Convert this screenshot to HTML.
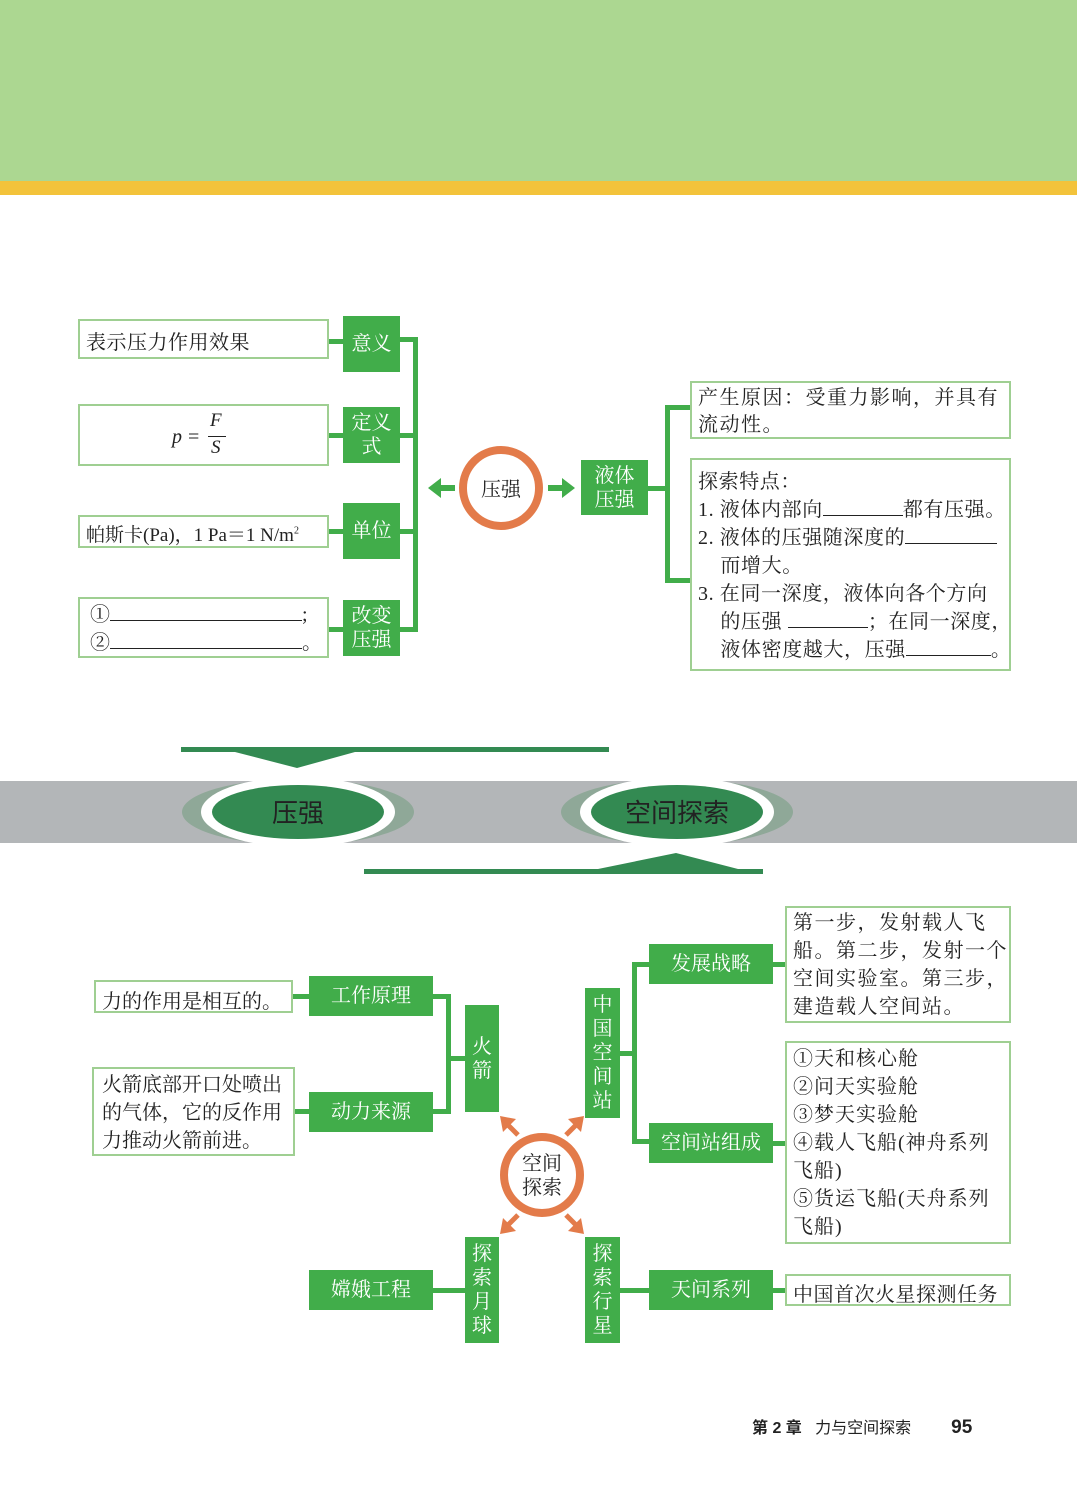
<!DOCTYPE html>
<html><head><meta charset="utf-8"><style>
body{margin:0;width:1077px;height:1508px;position:relative;background:#fff;overflow:hidden;font-family:"Liberation Serif","Noto Serif CJK SC",serif;}
div{position:absolute;box-sizing:border-box}
.g{background:#41ad4a;color:#fff;font-size:20px;text-align:center;display:flex;align-items:center;justify-content:center;line-height:24px}
.b{border:2px solid #9fcf92;background:#fff;color:#222;font-size:20px}
.l{background:#41ad4a}
.v{flex-direction:column;line-height:24px}
.u{display:inline-block;border-bottom:1.5px solid #222;height:18px;vertical-align:baseline}
</style></head><body>
<div style="left:0;top:0;width:1077px;height:181px;background:#acd791"></div>
<div style="left:0;top:181px;width:1077px;height:14px;background:#f3c33b"></div>

<div class="b" style="left:78px;top:319px;width:251px;height:40px;padding:5px 0 0 6px;letter-spacing:0.5px">表示压力作用效果</div>
<div class="b" style="left:78px;top:404px;width:251px;height:62px"><span style="position:absolute;left:92px;top:20px;font-style:italic">p</span><span style="position:absolute;left:108px;top:20px">=</span><span style="position:absolute;left:130px;top:4px;font-style:italic;font-size:19px">F</span><span style="position:absolute;left:128px;top:30px;width:18px;border-top:1.5px solid #222"></span><span style="position:absolute;left:131px;top:31px;font-style:italic;font-size:19px">S</span></div>
<div class="b" style="left:78px;top:515px;width:251px;height:33px;padding:3px 0 0 6px;font-size:19px;white-space:nowrap">帕斯卡(Pa)，1 Pa＝1 N/m<sup style="font-size:10px">2</sup></div>
<div class="b" style="left:78px;top:597px;width:251px;height:61px;padding:2px 0 0 10px;line-height:28px">①<span class="u" style="width:192px"></span>;<br>②<span class="u" style="width:192px"></span>。</div>
<div class="g" style="left:343px;top:316px;width:57px;height:56px">意义</div>
<div class="g" style="left:343px;top:407px;width:57px;height:56px">定义<br>式</div>
<div class="g" style="left:343px;top:503px;width:57px;height:56px">单位</div>
<div class="g" style="left:343px;top:600px;width:57px;height:56px">改变<br>压强</div>
<div class="l" style="left:413px;top:337px;width:5px;height:295px"></div>
<div class="l" style="left:329px;top:339px;width:14px;height:5px"></div>
<div class="l" style="left:400px;top:337px;width:18px;height:5px"></div>
<div class="l" style="left:329px;top:433px;width:14px;height:5px"></div>
<div class="l" style="left:400px;top:433px;width:18px;height:5px"></div>
<div class="l" style="left:329px;top:529px;width:14px;height:5px"></div>
<div class="l" style="left:400px;top:529px;width:18px;height:5px"></div>
<div class="l" style="left:329px;top:627px;width:14px;height:5px"></div>
<div class="l" style="left:400px;top:627px;width:18px;height:5px"></div>

<svg style="position:absolute;left:0;top:0" width="1077" height="1508">
<polygon points="428,488 441,478 441,485 455,485 455,491 441,491 441,498" fill="#41ad4a"/>
<polygon points="575,488 562,478 562,485 548,485 548,491 562,491 562,498" fill="#41ad4a"/>
<circle cx="501" cy="488" r="38" fill="#fff" stroke="#e37b4a" stroke-width="8"/>
<text x="501" y="496" font-size="20" text-anchor="middle" fill="#222" font-family="Liberation Serif, Noto Serif CJK SC, serif">压强</text>
<polygon points="181,747 609,747 609,752 355,752 297,768 235,752 181,752" fill="#338a52"/>
<rect x="0" y="781" width="1077" height="62" fill="#b3b6b8"/>
<polygon points="364,869 598,869 676,853 738,869 763,869 763,874 364,874" fill="#338a52"/>
<ellipse cx="298" cy="812" rx="116" ry="33" fill="#8fa898"/>
<ellipse cx="298" cy="812" rx="97" ry="35" fill="#fff"/>
<ellipse cx="298" cy="812" rx="86" ry="27" fill="#338a52"/>
<text x="298" y="822" font-size="26" text-anchor="middle" fill="#222" font-family="Liberation Sans, Noto Sans CJK SC, sans-serif">压强</text>
<ellipse cx="677" cy="812" rx="116" ry="33" fill="#8fa898"/>
<ellipse cx="677" cy="812" rx="97" ry="35" fill="#fff"/>
<ellipse cx="677" cy="812" rx="86" ry="27" fill="#338a52"/>
<text x="677" y="822" font-size="26" text-anchor="middle" fill="#222" font-family="Liberation Sans, Noto Sans CJK SC, sans-serif">空间探索</text>
<circle cx="542" cy="1175" r="38" fill="#fff" stroke="#e37b4a" stroke-width="8"/>
<text x="542" y="1170" font-size="20" text-anchor="middle" fill="#222" font-family="Liberation Serif, Noto Serif CJK SC, serif">空间</text>
<text x="542" y="1194" font-size="20" text-anchor="middle" fill="#222" font-family="Liberation Serif, Noto Serif CJK SC, serif">探索</text>
<g stroke="#e37b4a" stroke-width="5">
<line x1="518" y1="1135" x2="506" y2="1123"/><line x1="566" y1="1135" x2="578" y2="1123"/>
<line x1="518" y1="1215" x2="506" y2="1227"/><line x1="566" y1="1215" x2="578" y2="1227"/></g>
<g fill="#e37b4a">
<polygon points="500,1116 516,1119 503,1132"/><polygon points="584,1116 568,1119 581,1132"/>
<polygon points="500,1234 516,1231 503,1218"/><polygon points="584,1234 568,1231 581,1218"/></g>
</svg>

<div class="g" style="left:581px;top:460px;width:67px;height:55px">液体<br>压强</div>
<div class="l" style="left:648px;top:486px;width:20px;height:5px"></div>
<div class="l" style="left:665px;top:405px;width:5px;height:178px"></div>
<div class="l" style="left:665px;top:405px;width:25px;height:5px"></div>
<div class="l" style="left:665px;top:578px;width:25px;height:5px"></div>
<div class="b" style="left:690px;top:381px;width:321px;height:58px;padding:2px 0 0 6px;line-height:27px;letter-spacing:1.5px">产生原因：受重力影响，并具有<br>流动性。</div>
<div class="b" style="left:690px;top:458px;width:321px;height:213px;padding:8px 0 0 6px;line-height:28px;white-space:nowrap;letter-spacing:0.6px">探索特点：<br>1. 液体内部向<span class="u" style="width:80px"></span>都有压强。<br>2. 液体的压强随深度的<span class="u" style="width:92px"></span><br>&nbsp;&nbsp;&nbsp; 而增大。<br>3. 在同一深度，液体向各个方向<br>&nbsp;&nbsp;&nbsp; 的压强 <span class="u" style="width:80px"></span>；在同一深度，<br>&nbsp;&nbsp;&nbsp; 液体密度越大，压强<span class="u" style="width:85px"></span>。</div>

<div class="b" style="left:94px;top:980px;width:199px;height:33px;padding:3px 0 0 6px">力的作用是相互的。</div>
<div class="b" style="left:92px;top:1067px;width:203px;height:89px;padding:2px 0 0 8px;line-height:28px">火箭底部开口处喷出<br>的气体，它的反作用<br>力推动火箭前进。</div>
<div class="l" style="left:293px;top:994px;width:16px;height:5px"></div>
<div class="l" style="left:295px;top:1109px;width:14px;height:5px"></div>
<div class="g" style="left:309px;top:976px;width:124px;height:40px">工作原理</div>
<div class="g" style="left:309px;top:1092px;width:124px;height:40px">动力来源</div>
<div class="l" style="left:433px;top:994px;width:18px;height:5px"></div>
<div class="l" style="left:433px;top:1109px;width:18px;height:5px"></div>
<div class="l" style="left:446px;top:994px;width:5px;height:120px"></div>
<div class="l" style="left:446px;top:1056px;width:19px;height:5px"></div>
<div class="g v" style="left:465px;top:1005px;width:34px;height:107px">火<br>箭</div>
<div class="g v" style="left:585px;top:988px;width:35px;height:130px">中<br>国<br>空<br>间<br>站</div>
<div class="l" style="left:620px;top:1051px;width:14px;height:5px"></div>
<div class="l" style="left:632px;top:962px;width:5px;height:182px"></div>
<div class="l" style="left:632px;top:962px;width:17px;height:5px"></div>
<div class="l" style="left:632px;top:1139px;width:17px;height:5px"></div>
<div class="g" style="left:649px;top:944px;width:124px;height:40px">发展战略</div>
<div class="g" style="left:649px;top:1123px;width:124px;height:40px">空间站组成</div>
<div class="l" style="left:773px;top:962px;width:12px;height:5px"></div>
<div class="l" style="left:773px;top:1141px;width:12px;height:5px"></div>
<div class="b" style="left:785px;top:906px;width:226px;height:117px;padding:1px 0 0 6px;line-height:28px;letter-spacing:1.5px;white-space:nowrap">第一步，发射载人飞<br>船。第二步，发射一个<br>空间实验室。第三步，<br>建造载人空间站。</div>
<div class="b" style="left:785px;top:1041px;width:226px;height:203px;padding:2px 0 0 6px;line-height:28px;white-space:nowrap;letter-spacing:1px">①天和核心舱<br>②问天实验舱<br>③梦天实验舱<br>④载人飞船(神舟系列<br>飞船)<br>⑤货运飞船(天舟系列<br>飞船)</div>
<div class="g v" style="left:465px;top:1237px;width:34px;height:106px">探<br>索<br>月<br>球</div>
<div class="g" style="left:309px;top:1270px;width:124px;height:40px">嫦娥工程</div>
<div class="l" style="left:433px;top:1288px;width:32px;height:5px"></div>
<div class="g v" style="left:585px;top:1237px;width:35px;height:106px">探<br>索<br>行<br>星</div>
<div class="l" style="left:620px;top:1288px;width:29px;height:5px"></div>
<div class="g" style="left:649px;top:1270px;width:124px;height:40px">天问系列</div>
<div class="l" style="left:773px;top:1288px;width:12px;height:5px"></div>
<div class="b" style="left:785px;top:1274px;width:226px;height:32px;padding:2px 0 0 6px;letter-spacing:0.5px">中国首次火星探测任务</div>

<div style="left:752px;top:1414px;font-family:'Liberation Sans','Noto Sans CJK SC',sans-serif;font-size:16px;color:#222;white-space:nowrap"><b>第 2 章</b>&nbsp;&nbsp; 力与空间探索 &nbsp;&nbsp;&nbsp;&nbsp;&nbsp;&nbsp;&nbsp;&nbsp;<b style="font-size:19px">95</b></div>
</body></html>
